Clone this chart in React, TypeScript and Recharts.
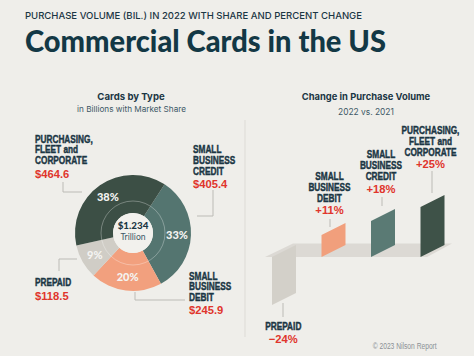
import React from 'react';
import { PieChart, Pie, Cell, BarChart, Bar, XAxis, YAxis } from 'recharts';

const W = 474;
const H = 356;
const BG = '#efeeea';
const INK = '#1b3644';
const SUB = '#3d5866';
const RED = '#e0352c';
const LEAD = '#bcbbb6';

// Cards by type (billions, 2022)
const cardTypes = ['Small Business Credit', 'Small Business Debit', 'Prepaid', 'Purchasing, Fleet and Corporate'];
const volumes = [405.4, 245.9, 118.5, 464.6];
const shares = [33, 20, 9, 38];
const typeColors = ['#547570', '#f2a07e', '#d0cdc6', '#3c4f45'];

// Change in purchase volume, 2022 vs 2021 (%)
const changeCategories = ['Prepaid', 'Small Business Debit', 'Small Business Credit', 'Purchasing, Fleet and Corporate'];
const changes = [-24, 11, 18, 25];
const changeColors = ['#d3d0c9', '#f19f7c', '#5a7a74', '#3e5248'];

const pieData = cardTypes.map((name, i) => ({ name, value: volumes[i] }));
const barData = changeCategories.map((name, i) => ({ name, value: changes[i] }));

const RAD = Math.PI / 180;

const renderShare = (p: any) => {
  const r = 44;
  const x = p.cx + r * Math.cos(-p.midAngle * RAD);
  const y = p.cy + r * Math.sin(-p.midAngle * RAD);
  return (
    <text x={x} y={y} textAnchor="middle" dominantBaseline="central" fill="#f4f4f2"
      fontFamily="Lato" fontWeight={900} fontSize={11}>
      {shares[p.index]}%
    </text>
  );
};

const SlantBar = (p: any) => {
  const { x, y, width, height, index } = p;
  const top = Math.min(y, y + height);
  const bot = Math.max(y, y + height);
  const rise = 12;
  const pts = `${x},${bot} ${x},${top} ${x + width},${top - rise} ${x + width},${bot - rise}`;
  return <polygon points={pts} fill={changeColors[index]} />;
};

const COND = "'Liberation Sans Narrow', 'Liberation Sans', Arial, sans-serif";
const SX = 0.95;
const SY = 1.2;
const LINE = 10.8;

const Lines = ({ rows, x, y0, anchor = 'start' }: any) => (
  <>
    {rows.map((t: string, i: number) => (
      <text key={i} transform={`translate(${x},${y0 + i * LINE}) scale(${SX},${SY})`} textAnchor={anchor}
        fontFamily={COND} fontWeight={700} fontSize={8.7} fill={INK}
        stroke={INK} strokeWidth={0.35}>{t}</text>
    ))}
  </>
);

const Val = ({ x, y, anchor = 'start', children }: any) => (
  <text x={x} y={y} textAnchor={anchor} fontFamily="'Liberation Sans', Arial, sans-serif"
    fontWeight={700} fontSize={11.2} fill={RED}>{children}</text>
);

export default function App() {
  return (
    <div style={{ position: 'absolute', left: 0, top: 0, width: W, height: H, background: BG, overflow: 'hidden' }}>
      {/* shelf behind bars */}
      <svg width={W} height={H} style={{ position: 'absolute', left: 0, top: 0 }}>
        <polygon points="265,257 293,243.5 452,243.5 427,257" fill="#dcd9d4" />
        <line x1={245} y1={120} x2={245} y2={337} stroke="#dddbd6" strokeWidth={1} />
      </svg>

      <div style={{ position: 'absolute', left: 0, top: 0 }}>
        <PieChart width={W} height={H} margin={{ top: 0, right: 0, bottom: 0, left: 0 }}>
          <Pie data={pieData} dataKey="value" nameKey="name" cx={133} cy={233}
            innerRadius={20} outerRadius={58} startAngle={57} endAngle={-303}
            stroke="none" label={renderShare} labelLine={false} isAnimationActive={false}>
            {pieData.map((d, i) => <Cell key={d.name} fill={typeColors[i]} />)}
          </Pie>
        </PieChart>
      </div>

      <div style={{ position: 'absolute', left: 0, top: 0 }}>
        <BarChart width={W} height={H} data={barData} barSize={24}
          margin={{ top: 197, right: 17, bottom: 39, left: 259 }}>
          <XAxis dataKey="name" hide />
          <YAxis hide domain={[-30, 30]} />
          <Bar dataKey="value" shape={SlantBar} isAnimationActive={false} />
        </BarChart>
      </div>

      <svg width={W} height={H} style={{ position: 'absolute', left: 0, top: 0, pointerEvents: 'none' }}>
        <text x={25} y={19.3} fontFamily="Inter" fontWeight={500} fontSize={9.3} fill={INK}
          textLength={337} lengthAdjust="spacingAndGlyphs">
          PURCHASE VOLUME (BIL.) IN 2022 WITH SHARE AND PERCENT CHANGE
        </text>
        <text x={25} y={52} fontFamily="Lato" fontWeight={900} fontSize={30} fill="#133845"
          textLength={361} lengthAdjust="spacingAndGlyphs">
          Commercial Cards in the US
        </text>

        <text x={131} y={100} textAnchor="middle" fontFamily="Inter" fontWeight={700} fontSize={9.6} fill={INK}>Cards by Type</text>
        <text x={131.5} y={111.5} textAnchor="middle" fontFamily="Inter" fontSize={8.2} fill={SUB}>in Billions with Market Share</text>

        <text x={366} y={100} textAnchor="middle" fontFamily="Inter" fontWeight={700} fontSize={9.4} fill={INK}>Change in Purchase Volume</text>
        <text x={366} y={115} textAnchor="middle" fontFamily="Inter" fontSize={8.4} fill={SUB}>2022 vs. 2021</text>

        {/* donut decorations */}
        <circle cx={133} cy={233} r={20} fill="#f2f1ed" />
        <circle cx={133} cy={233} r={32} fill="none" stroke="rgba(255,255,255,0.3)" strokeWidth={1} />
        <text x={133} y={229} textAnchor="middle" fontFamily="Lato" fontWeight={900} fontSize={9.8} fill={INK}>$1.234</text>
        <text x={133} y={240} textAnchor="middle" fontFamily="Lato" fontSize={8.6} fill={SUB}>Trillion</text>

        {/* donut callouts */}
        <polyline points="63,182 63,192 82,192" fill="none" stroke={LEAD} />
        <polyline points="197,216 213,216 213,190" fill="none" stroke={LEAD} />
        <polyline points="59,271 59,259 77,259" fill="none" stroke={LEAD} />
        <polyline points="135,292 135,300 185,300" fill="none" stroke={LEAD} />

        <Lines rows={['PURCHASING,', 'FLEET and', 'CORPORATE']} x={35} y0={142.5} />
        <Val x={35} y={177.5}>$464.6</Val>
        <Lines rows={['SMALL', 'BUSINESS', 'CREDIT']} x={193} y0={153} />
        <Val x={193} y={187.5}>$405.4</Val>
        <Lines rows={['PREPAID']} x={35} y0={286} />
        <Val x={35} y={300}>$118.5</Val>
        <Lines rows={['SMALL', 'BUSINESS', 'DEBIT']} x={189} y0={279.5} />
        <Val x={189} y={314}>$245.9</Val>

        {/* bar callouts */}
        <line x1={330} y1={219} x2={330} y2={227} stroke={LEAD} />
        <line x1={382} y1={197} x2={382} y2={206} stroke={LEAD} />
        <line x1={432} y1={171} x2={432} y2={193} stroke={LEAD} />
        <line x1={283} y1={303} x2={283} y2={317} stroke={LEAD} />

        <Lines rows={['SMALL', 'BUSINESS', 'DEBIT']} x={329.5} y0={180} anchor="middle" />
        <Val x={329.5} y={214} anchor="middle">+11%</Val>
        <Lines rows={['SMALL', 'BUSINESS', 'CREDIT']} x={381} y0={158.3} anchor="middle" />
        <Val x={381} y={192.7} anchor="middle">+18%</Val>
        <Lines rows={['PURCHASING,', 'FLEET and', 'CORPORATE']} x={430.5} y0={134.3} anchor="middle" />
        <Val x={430.5} y={167.7} anchor="middle">+25%</Val>
        <Lines rows={['PREPAID']} x={283.3} y0={330} anchor="middle" />
        <Val x={283.3} y={343.3} anchor="middle">−24%</Val>

        <text x={372.7} y={348.5} fontFamily="'Liberation Sans Narrow', Arial, sans-serif" fontSize={8.5} fill="#8a9095"
          textLength={64} lengthAdjust="spacingAndGlyphs">© 2023 Nilson Report</text>
      </svg>
    </div>
  );
}
